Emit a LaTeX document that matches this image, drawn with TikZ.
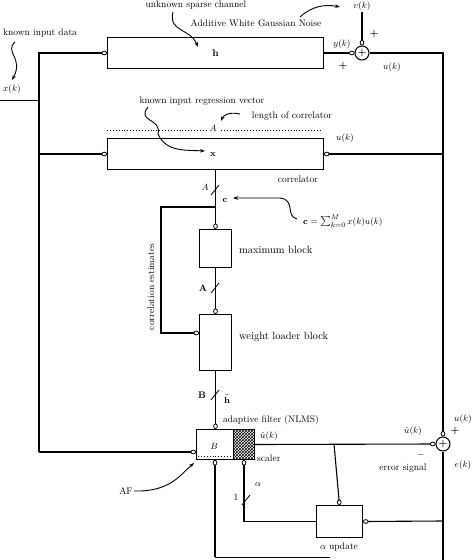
\documentclass[tikz,border=0pt]{standalone}
\usetikzlibrary{arrows.meta,patterns,calc}
\begin{document}
\begin{tikzpicture}[x=1pt,y=-1pt,
  font=\fontsize{9.5}{11}\selectfont,
  ln/.style={line width=1.1pt},
  tip/.style={-{Circle[open,length=5.5pt,width=4.5pt,line width=0.8pt]}},
  ann/.style={line width=0.9pt,-{Stealth[length=5pt,width=3.5pt]}},
  blk/.style={draw,line width=1pt,inner sep=0pt,anchor=north west},
  sum/.style={draw,circle,line width=1pt,minimum size=14pt,inner sep=0pt},
  lbl/.style={inner sep=1pt}]
\useasboundingbox (0,0) rectangle (474,560);
% blocks
\node[blk,minimum width=216pt,minimum height=31pt] (h) at (107,37) {};
\node[font=\bfseries] (hl) at (h.center) {h};
\node[blk,minimum width=216pt,minimum height=31pt] (corr) at (107,138) {};
\node (xl) at (213,154) {$\mathbf{x}$};
\node[blk,minimum width=32pt,minimum height=38pt] (max) at (199,229) {};
\node[blk,minimum width=32pt,minimum height=56pt] (wl) at (199,314) {};
\node[blk,minimum width=37pt,minimum height=30pt] (B) at (196,429) {};
\node[blk,minimum width=21pt,minimum height=30pt,pattern=crosshatch] (sc) at (233,429) {};
\node[blk,minimum width=46pt,minimum height=32pt] (au) at (316,505) {};
\node[sum] (s1) at (362,53) {};
\node[font=\bfseries] (s1p) at (s1.center) {+};
\node[sum] (s2) at (443,444) {};
\node[font=\bfseries] (s2p) at (s2.center) {+};
% spine
\coordinate (xin) at (0,100);
\coordinate (xj) at (39,100);
\coordinate (sp) at (39,452);
\coordinate (cj) at (39,154);
\draw[line width=0.7pt] (xin) -- (xj);
\draw[ln,tip] (sp) |- (h.west);
\draw[ln,tip] (cj) -- (corr.west);
\draw[ln,tip] (sp) -- (sp -| B.west);
% top right
\node[lbl] (v) at (362,6) {$v(k)$};
\draw[ln,tip] (v.south) -- (s1.north);
\draw[ln,tip] (h.east) -- (s1.west);
\draw[ln,tip] (s1.east) -| (s2.north);
\draw[ln,tip] (s2.north |- corr.east) -- (corr.east);
% vertical chain
\draw[ln,tip] (corr.south) -- (max.north);
\draw[ln,tip] (max.south) -- (wl.north);
\draw[ln,tip] (wl.south) -- (wl.south |- B.north);
\coordinate (ce) at (215,207);
\coordinate (cec) at (161,333);
\draw[ln,tip] (ce) -| (cec) -- (cec -| wl.west);
% output side
\draw[ln,tip] (sc.east) -- (s2.west);
\coordinate (abr) at (334,444);
\draw[ln,tip] (abr) -- (au.north);
\draw[ln] (s2.south) -- (443,560);
\coordinate (ej) at (443,521);
\draw[ln,tip] (ej) -- (au.east);
\draw[ln,tip] (au.west) -| (sc.south);
\coordinate (bb) at (215,557);
\coordinate (bbr) at (330,557);
\draw[ln,tip] (bb) -- (bb |- B.south);
\draw[line width=0.6pt] (bb) -- (bbr);
% slashes
\draw[line width=0.8pt] (211,195) -- (219,185);
\draw[line width=0.8pt] (211,293) -- (219,283);
\draw[line width=0.8pt] (211,400) -- (219,390);
\draw[line width=0.8pt] (242,505) -- (250,495);
% dimension lines
\draw[dotted,line width=0.9pt] (107,130) -- (206,130);
\draw[dotted,line width=0.9pt] (221,130) -- (322,130);
\node[lbl] (Adim) at (213,128) {$A$};
\draw[dotted,line width=0.9pt] (198,456) -- (231,456);
\node[lbl] (Bdim) at (214,446) {$B$};
% labels
\node[lbl] (usc) at (196,5) {unknown sparse channel};
\node[lbl] (awgn) at (256,23) {Additive White Gaussian Noise};
\node[lbl] (kid) at (40,33) {known input data};
\node[lbl] (xk) at (12,89) {$x(k)$};
\node[lbl] (yk) at (342,44) {$y(k)$};
\node[lbl,font=\bfseries] (p1) at (343,66) {+};
\node[lbl,font=\bfseries] (p2) at (374,34) {+};
\node[lbl] (uk1) at (392,67) {$u(k)$};
\node[lbl] (kirv) at (202,101) {known input regression vector};
\node[lbl] (loc) at (292,116) {length of correlator};
\node[lbl] (uk2) at (345,138) {$u(k)$};
\node[lbl] (corl) at (298,179) {correlator};
\node[lbl] (A1) at (205,187) {$A$};
\node[lbl] (c1) at (225,200) {$\mathbf{c}$};
\node[lbl,anchor=west] (cf) at (302,221) {$\mathbf{c}=\sum_{k=0}^{M}x(k)u(k)$};
\node[lbl,anchor=west,font=\fontsize{10.5}{12}\selectfont] (maxl) at (238,250) {maximum block};
\node[lbl] (A2) at (203,288) {\textbf{A}};
\node[lbl,anchor=west,font=\fontsize{10.5}{12}\selectfont] (wll) at (238,337) {weight loader block};
\node[lbl,rotate=90] (cel) at (151,287) {correlation estimates};
\node[lbl] (B1) at (202,395) {\textbf{B}};
\node[lbl] (ht) at (227,399) {$\tilde{\mathbf{h}}$};
\node[lbl,anchor=west] (afl) at (222,420) {adaptive filter (NLMS)};
\node[lbl,anchor=west] (scl) at (256,458) {scaler};
\node[lbl] (uh1) at (269,436) {$\hat{u}(k)$};
\node[lbl] (uh2) at (413,431) {$\hat{u}(k)$};
\node[lbl,font=\bfseries] (m1) at (421,455) {$-$};
\node[lbl] (uk3) at (463,419) {$u(k)$};
\node[lbl,font=\bfseries] (p3) at (455,431) {+};
\node[lbl] (ek) at (463,465) {$e(k)$};
\node[lbl] (esig) at (403,468) {error signal};
\node[lbl] (al) at (258,485) {$\alpha$};
\node[lbl] (one) at (236,497) {1};
\node[lbl] (aul) at (339,547) {$\alpha$ update};
\node[lbl] (AF) at (126,491) {AF};
% annotation pointers
\draw[ann] (15,42) .. controls (4,52) and (24,58) .. (12,80);
\draw[ann] (173,12) .. controls (168,32) and (190,28) .. (198,47);
\draw[ann] (300,17) .. controls (312,6) and (325,4) .. (340,7);
\draw[ann] (148,107) .. controls (136,122) and (162,118) .. (158,134) .. controls (166,152) and (185,150) .. (205,151);
\draw[ann] (240,114) .. controls (231,112) and (224,114) .. (221,121);
\draw[ann] (297,219) .. controls (285,216) and (296,200) .. (280,198) -- (233,198);
\draw[ann] (AF.east) .. controls (170,492) and (180,475) .. (194,463);
\end{tikzpicture}
\end{document}
